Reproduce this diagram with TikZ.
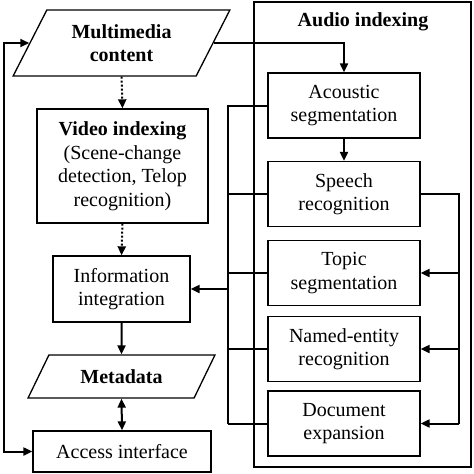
\documentclass[tikz,border=0pt]{standalone}
\usepackage{fontspec}
\setmainfont{Liberation Serif}
\usetikzlibrary{arrows.meta,positioning,shapes.geometric,calc}

\begin{document}
\begin{tikzpicture}[x=1pt,y=-1pt,
  font=\fontsize{20}{23.5}\selectfont,
  procbox/.style={draw,line width=1.3pt,inner sep=0pt,align=center,
                  minimum width=152pt,minimum height=65pt},
  databox/.style={draw,line width=1.3pt,trapezium,trapezium stretches=true,
                  inner sep=0pt,align=center},
  link/.style={line width=2pt,-{Triangle[length=9pt,width=8pt]}},
  bothlink/.style={line width=2pt,{Triangle[length=9pt,width=8pt]}-{Triangle[length=9pt,width=8pt]}},
  dotlink/.style={link,dotted},
  bus/.style={line width=2pt}]
  \useasboundingbox (0,0) rectangle (474,474);

  % audio indexing frame
  \node[draw,line width=1.3pt,minimum width=217pt,minimum height=465pt,inner sep=0pt]
       (audio) at (362.5,234.5) {};
  \node[font=\fontsize{20}{23.5}\selectfont\bfseries] (audioTitle) at (363,22) {Audio indexing};

  % left column
  \node[databox,trapezium left angle=59,trapezium right angle=121,
        minimum width=217pt,minimum height=66pt] (media) at (121.5,43)
       {\textbf{Multimedia}\\\textbf{content}};
  \node[procbox,minimum width=171pt,minimum height=114pt] (video) at (122.5,166)
       {\textbf{Video indexing}\\(Scene-change\\detection, Telop\\recognition)};
  \node[procbox,minimum width=137pt,minimum height=66pt] (integ) at (121.5,289)
       {Information\\integration};
  \node[databox,trapezium left angle=50,trapezium right angle=130,
        minimum width=187pt,minimum height=43pt] (meta) at (121.5,376.5)
       {\textbf{Metadata}};
  \node[procbox,minimum width=178pt,minimum height=41pt] (access) at (122,451.5)
       {Access interface};

  % audio column
  \node[procbox] (acoustic) at (344,105.5) {Acoustic\\segmentation};
  \node[procbox] (speech) at (344,194) {Speech\\recognition};
  \node[procbox] (topic) at (344,273) {Topic\\segmentation};
  \node[procbox] (entity) at (344,349) {Named-entity\\recognition};
  \node[procbox] (docexp) at (344,423.5) {Document\\expansion};

  \coordinate (lbus) at (228,0);
  \coordinate (rbus) at (459,0);
  \coordinate (back) at (3.5,0);
  \coordinate (mediaL) at ($(media.bottom left corner)!0.5!(media.top left corner)$);
  \coordinate (mediaR) at ($(media.bottom right corner)!0.5!(media.top right corner)$);

  % connectors
  \draw[link] (mediaR) -| (acoustic.north);
  \draw[dotlink] (media.south) -- (video.north);
  \draw[dotlink] (video.south) -- (integ.north);
  \draw[link] (integ.south) -- (meta.north);
  \draw[bothlink] (meta.south) -- (access.north);
  \draw[bothlink] (mediaL) -- (mediaL -| back) |- (access.west);
  \draw[link] (acoustic.south) -- (speech.north);

  \draw[bus] (speech.east) -- (speech.east -| rbus) -- (docexp.east -| rbus);
  \foreach \n in {topic,entity,docexp}
    \draw[link] (\n.east -| rbus) -- (\n.east);

  \draw[bus] (acoustic.west) -- (acoustic.west -| lbus) -- (docexp.west -| lbus);
  \foreach \n in {speech,topic,entity,docexp}
    \draw[bus] (\n.west) -- (\n.west -| lbus);
  \draw[link] (integ.east -| lbus) -- (integ.east);
\end{tikzpicture}
\end{document}
